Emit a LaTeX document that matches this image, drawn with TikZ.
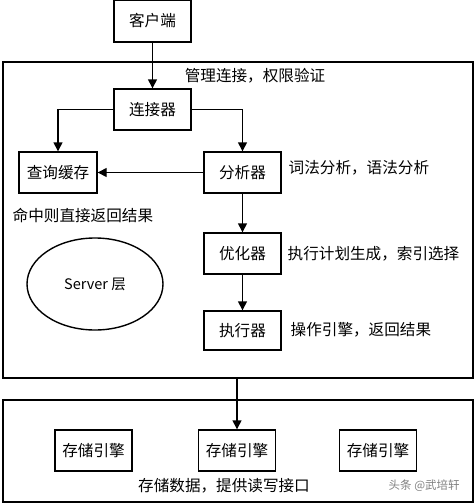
\documentclass[tikz,border=0pt]{standalone}
\usepackage{fontspec}
\setmainfont{Noto Sans CJK SC}
\usepackage{tikz}
\usetikzlibrary{positioning,arrows.meta,shapes.geometric}

\begin{document}
\begin{tikzpicture}[x=1pt, y=-1pt, line width=1.4pt, font=\fontsize{15.6}{18}\selectfont,
    box/.style={rectangle, draw, minimum width=77pt, minimum height=41pt, inner sep=0pt},
    note/.style={inner sep=0pt, anchor=west},
    arr/.style={-{Triangle[width=9pt,length=9pt]}}]
        \useasboundingbox (0,0) rectangle (474,503);
        % Layer frames
        \node[draw, minimum width=470pt, minimum height=316pt] (server) at (238,220) {};   % Server layer
        \node[draw, minimum width=470pt, minimum height=102pt] (store) at (238,451) {};    % Storage layer

        % Define nodes for the server components
        \node[box, minimum height=42pt] (client) at (152.5,21) {客户端};   % Client
        \node[box] (conn) at (152.5,109.5) {连接器};                        % Connector
        \node[box, minimum width=78pt] (cache) at (58,172.5) {查询缓存};     % Query cache
        \node[box] (parser) at (242.5,172.5) {分析器};                      % Parser
        \node[box] (optim) at (242.5,253.5) {优化器};                       % Optimizer
        \node[box, minimum height=39pt] (exec) at (242.5,330.5) {执行器};   % Executor
        \node[ellipse, draw, minimum width=136pt, minimum height=92pt, font=\fontsize{14.5}{16}\selectfont] (layer) at (95,284) {Server 层};

        % Storage engines
        \node[box] (eng1) at (93.5,450.5) {存储引擎};
        \node[box] (eng2) at (237,450.5) {存储引擎};
        \node[box] (eng3) at (378,450.5) {存储引擎};

        % Notes beside the boxes
        \node[inner sep=0pt] (connnote) at (255,76) {管理连接，权限验证};
        \node[note] (parsnote) at (288,168) {词法分析，语法分析};
        \node[note] (hitnote) at (12,215) {命中则直接返回结果};
        \node[note] (optnote) at (287,254) {执行计划生成，索引选择};
        \node[note] (execnote) at (290,330) {操作引擎，返回结果};
        \node[inner sep=0pt] (storenote) at (224,486) {存储数据，提供读写接口};
        \node[note, text=black!50, font=\fontsize{11.5}{13}\selectfont] (mark) at (388,486) {头条 @武培轩};

        % Draw the arrows between the components
        \draw[arr] (client) -- (conn);                 % Client to connector
        \draw[arr] (conn.west) -| (cache.north);        % Connector to cache
        \draw[arr] (conn.east) -| (parser.north);       % Connector to parser
        \draw[arr] (parser) -- (cache);                 % Parser to cache
        \draw[arr] (parser) -- (optim);                 % Parser to optimizer
        \draw[arr] (optim) -- (exec);                   % Optimizer to executor
        \draw[arr] (server.south -| eng2) -- (eng2.north); % Server layer to engine
    \end{tikzpicture}
\end{document}
